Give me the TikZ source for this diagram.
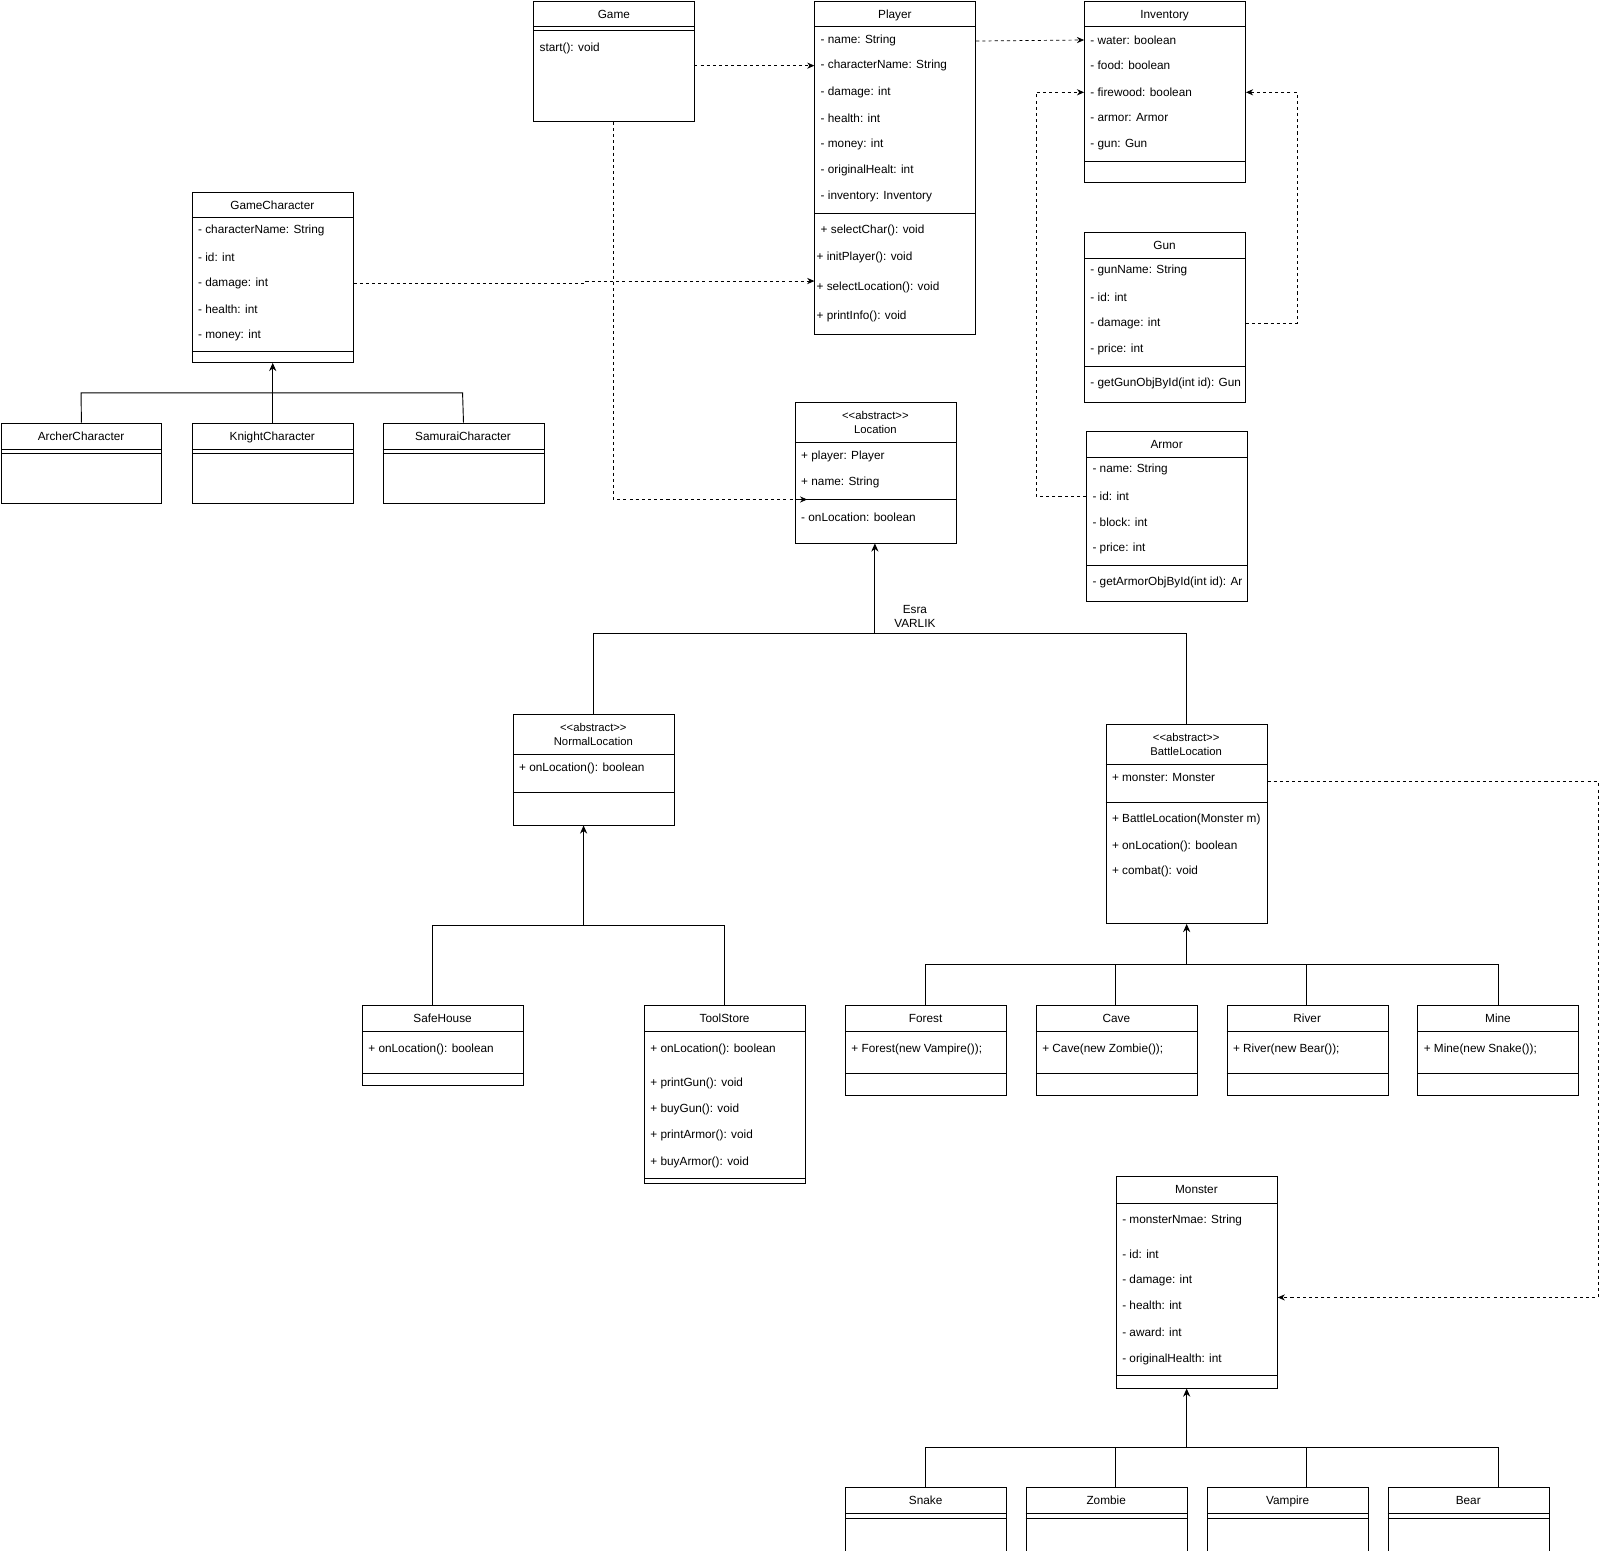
\documentclass[tikz,border=0pt]{standalone}
\usepackage{fontspec}
\setmainfont{Liberation Sans}
\usetikzlibrary{arrows.meta}
\tikzset{
  cbox/.style={draw,line width=0.8pt,inner sep=0pt,anchor=north west},
  txt/.style={anchor=west,inner sep=0pt,font=\fontsize{11.5}{13}\selectfont},
  ttl/.style={anchor=center,inner sep=0pt,font=\fontsize{11.5}{13}\selectfont,align=center},
  dep/.style={dashed,line width=0.7pt,-{Stealth[length=7pt,width=6pt]}},
  inh/.style={line width=0.9pt,-{Stealth[length=8pt,width=7pt]}},
  seg/.style={line width=0.9pt},
}
\newcommand{\ab}{\textless{}\textless{}abstract\textgreater{}\textgreater{}}
\newcommand{\cls}[6]{% name x y w h title
  \node[cbox,minimum width=#4pt,minimum height=#5pt] (#1) at (#2,#3) {};
  \node[ttl,anchor=base] (#1-t) at ({#2+#4/2},{#3+17}) {#6};}
\newcommand{\hl}[3]{\draw[line width=0.8pt] (#1,#3) -- ({#1+#2},#3);}
\newcommand{\at}[4]{\node[txt] (#1) at ({#2+6},#3) {#4};}
\begin{document}
\begin{tikzpicture}[x=1pt,y=-1pt]
\useasboundingbox (0,0) rectangle (1560,1512);
% Game
\cls{game}{520}{1}{157}{117}{Game}
\hl{520}{157}{26}\hl{520}{157}{30}
\at{g1}{520}{47}{start(): void}
% Player
\cls{player}{794}{1}{157}{325}{Player}
\hl{794}{157}{26}
\at{p1}{794}{39}{- name: String}
\at{p2}{794}{64}{- characterName: String}
\at{p3}{794}{90}{- damage: int}
\at{p4}{794}{115}{- health: int}
\at{p5}{794}{141}{- money: int}
\at{p6}{794}{166}{- originalHealt: int}
\at{p7}{794}{192}{- inventory: Inventory}
\hl{794}{157}{208}
\at{p8}{794}{225}{+ selectChar(): void}
\at{p9}{790}{251}{+ initPlayer(): void}
\at{p10}{790}{280}{+ selectLocation(): void}
\at{p11}{790}{309}{+ printInfo(): void}
% Inventory
\cls{inv}{1057}{1}{157}{176}{Inventory}
\hl{1057}{157}{26}
\at{i1}{1057}{39}{- water: boolean}
\at{i2}{1057}{64}{- food: boolean}
\at{i3}{1057}{90}{- firewood: boolean}
\at{i4}{1057}{115}{- armor: Armor}
\at{i5}{1057}{141}{- gun: Gun}
\hl{1057}{157}{157}
% GameCharacter
\cls{gc}{187}{187}{157}{166}{GameCharacter}
\hl{187}{157}{212}
\at{c1}{187}{225}{- characterName: String}
\at{c2}{187}{251}{- id: int}
\at{c3}{187}{276}{- damage: int}
\at{c4}{187}{302}{- health: int}
\at{c5}{187}{327}{- money: int}
\hl{187}{157}{343}
% characters
\cls{archer}{1}{412}{156}{78}{ArcherCharacter}
\hl{1}{156}{438}\hl{1}{156}{442}
\cls{knight}{187}{412}{157}{78}{KnightCharacter}
\hl{187}{157}{438}\hl{187}{157}{442}
\cls{samurai}{373}{412}{157}{78}{SamuraiCharacter}
\hl{373}{157}{438}\hl{373}{157}{442}
% Gun
\cls{gun}{1057}{226}{157}{166}{Gun}
\hl{1057}{157}{252}
\at{u1}{1057}{264}{- gunName: String}
\at{u2}{1057}{290}{- id: int}
\at{u3}{1057}{315}{- damage: int}
\at{u4}{1057}{341}{- price: int}
\hl{1057}{157}{357}
\at{u5}{1057}{374}{- getGunObjById(int id): Gun}
% Location
\node[cbox,minimum width=157pt,minimum height=137pt] (loc) at (775,392) {};
\node[ttl,font=\fontsize{11}{13}\selectfont] (loc-t) at (853.5,412) {\ab\\Location};
\hl{775}{157}{431}
\at{l1}{775}{445}{+ player: Player}
\at{l2}{775}{470}{+ name: String}
\hl{775}{157}{487}
\at{l3}{775}{504}{- onLocation: boolean}
% Armor
\cls{armor}{1059}{420}{157}{166}{Armor}
\hl{1059}{157}{446}
\at{a1}{1059}{458}{- name: String}
\at{a2}{1059}{484}{- id: int}
\at{a3}{1059}{509}{- block: int}
\at{a4}{1059}{535}{- price: int}
\hl{1059}{157}{551}
\at{a5}{1059}{568}{- getArmorObjById(int id): Ar}
\node[ttl] (esra) at (892,601) {Esra\\VARLIK};
% NormalLocation
\node[cbox,minimum width=157pt,minimum height=108pt] (nl) at (500,696) {};
\node[ttl,font=\fontsize{11}{13}\selectfont] (nl-t) at (578.5,716) {\ab\\NormalLocation};
\hl{500}{157}{736}
\at{n1}{500}{749}{+ onLocation(): boolean}
\hl{500}{157}{773}
% BattleLocation
\node[cbox,minimum width=157pt,minimum height=194pt] (bl) at (1078,706) {};
\node[ttl,font=\fontsize{11}{13}\selectfont] (bl-t) at (1156.5,726) {\ab\\BattleLocation};
\hl{1078}{157}{745}
\at{b1}{1078}{758}{+ monster: Monster}
\hl{1078}{157}{782}
\at{b2}{1078}{799}{+ BattleLocation(Monster m)}
\at{b3}{1078}{825}{+ onLocation(): boolean}
\at{b4}{1078}{850}{+ combat(): void}
% SafeHouse
\cls{safe}{353}{980}{157}{78}{SafeHouse}
\hl{353}{157}{1006}
\at{s1}{353}{1023}{+ onLocation(): boolean}
\hl{353}{157}{1047}
% ToolStore
\cls{tool}{628}{980}{157}{173}{ToolStore}
\hl{628}{157}{1006}
\at{t1}{628}{1023}{+ onLocation(): boolean}
\at{t2}{628}{1056}{+ printGun(): void}
\at{t3}{628}{1082}{+ buyGun(): void}
\at{t4}{628}{1107}{+ printArmor(): void}
\at{t5}{628}{1133}{+ buyArmor(): void}
\hl{628}{157}{1149}
% battle locations
\cls{forest}{824}{980}{157}{88}{Forest}
\hl{824}{157}{1006}\at{f1}{824}{1023}{+ Forest(new Vampire());}\hl{824}{157}{1047}
\cls{cave}{1010}{980}{157}{88}{Cave}
\hl{1010}{157}{1006}\at{v1}{1010}{1023}{+ Cave(new Zombie());}\hl{1010}{157}{1047}
\cls{river}{1196}{980}{157}{88}{River}
\hl{1196}{157}{1006}\at{r1}{1196}{1023}{+ River(new Bear());}\hl{1196}{157}{1047}
\cls{mine}{1382}{980}{157}{88}{Mine}
\hl{1382}{157}{1006}\at{m1}{1382}{1023}{+ Mine(new Snake());}\hl{1382}{157}{1047}
% Monster
\cls{mon}{1088}{1147}{157}{206}{Monster}
\hl{1088}{157}{1173}
\at{o1}{1088}{1190}{- monsterNmae: String}
\at{o2}{1088}{1223}{- id: int}
\at{o3}{1088}{1248}{- damage: int}
\at{o4}{1088}{1273}{- health: int}
\at{o5}{1088}{1299}{- award: int}
\at{o6}{1088}{1325}{- originalHealth: int}
\hl{1088}{157}{1341}
% monsters
\cls{snake}{824}{1450}{157}{69}{Snake}
\hl{824}{157}{1476}\hl{824}{157}{1480}
\cls{zombie}{1000}{1450}{157}{69}{Zombie}
\hl{1000}{157}{1476}\hl{1000}{157}{1480}
\cls{vampire}{1177}{1450}{157}{69}{Vampire}
\hl{1177}{157}{1476}\hl{1177}{157}{1480}
\cls{bear}{1353}{1450}{157}{69}{Bear}
\hl{1353}{157}{1476}\hl{1353}{157}{1480}
% dependencies
\draw[dep] (677,64) -- (player.west |- 0,64);
\draw[dep] (player.east |- 0,40) -- (inv.west |- 0,39);
\draw[dep] (gc.east |- 0,276) -- (570,276) -- (570,274) -- (player.west |- 0,274);
\draw[dep] (game.south -| 598,0) -- (598,487) -- (787,487);
\draw[dep] (gun.east |- 0,315) -- (1265,315) -- (1265,90) -- (inv.east |- 0,90);
\draw[dep] (armor.west |- 0,484) -- (1010,484) -- (1010,90) -- (inv.west |- 0,90);
\draw[dep] (bl.east |- 0,762) -- (1558,762) -- (1558,1265) -- (mon.east |- 0,1265);
% inheritance
\draw[seg] (archer.north) -- (79,383) -- (451,383) -- (samurai.north);
\draw[inh] (knight.north) -- (gc.south);
\draw[seg] (nl.north -| 579,0) -- (579,618) -- (1157,618) -- (bl.north -| 1157,0);
\draw[inh] (853,618) -- (loc.south -| 853,0);
\draw[seg] (safe.north -| 422,0) -- (422,902) -- (706,902) -- (tool.north -| 706,0);
\draw[inh] (569,902) -- (nl.south -| 569,0);
\draw[seg] (forest.north -| 902,0) -- (902,940) -- (1461,940) -- (mine.north -| 1461,0);
\draw[seg] (cave.north -| 1088,0) -- (1088,940);
\draw[seg] (river.north -| 1274,0) -- (1274,940);
\draw[inh] (1157,940) -- (bl.south -| 1157,0);
\draw[seg] (snake.north -| 902,0) -- (902,1411) -- (1461,1411) -- (bear.north -| 1461,0);
\draw[seg] (zombie.north -| 1088,0) -- (1088,1411);
\draw[seg] (vampire.north -| 1274,0) -- (1274,1411);
\draw[inh] (1157,1411) -- (mon.south -| 1157,0);
\end{tikzpicture}
\end{document}
